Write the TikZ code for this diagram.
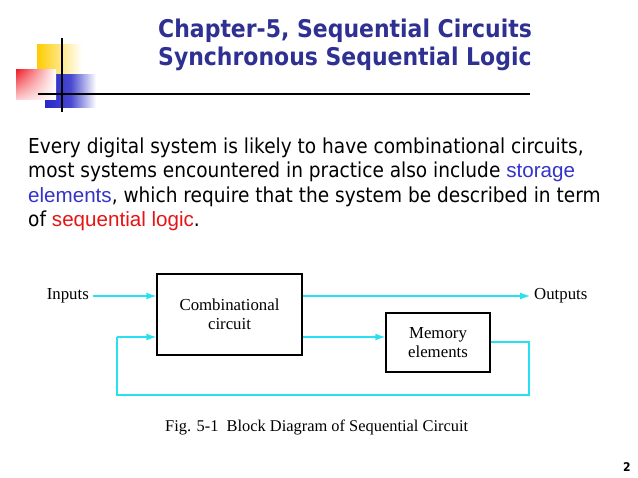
\documentclass[tikz,border=0pt]{standalone}
\usepackage{fontspec}
\setmainfont[FakeStretch=0.9]{DejaVu Sans}
\newfontfamily\serifdiag{Liberation Serif}
\newfontfamily\hlfont{Liberation Sans}
\usetikzlibrary{arrows.meta,shadings}
\definecolor{titleblue}{RGB}{46,49,146}
\definecolor{wireblue}{RGB}{40,225,240}
\definecolor{hlblue}{RGB}{51,51,204}
\definecolor{hlred}{RGB}{230,20,20}
\definecolor{decoyellow}{RGB}{255,204,0}
\definecolor{decored}{RGB}{240,30,40}
\definecolor{decoblue}{RGB}{40,40,200}
\newcommand{\hlb}[1]{{\hlfont\color{hlblue}#1}}
\newcommand{\hlr}[1]{{\hlfont\color{hlred}#1}}
\begin{document}
\begin{tikzpicture}[x=1pt,y=-1pt,
  blockbox/.style={draw=black,line width=1.3pt,minimum width=#1,align=center,font=\serifdiag\fontsize{16.8}{19}\selectfont},
  wire/.style={draw=wireblue,line width=1.3pt},
  wirearrow/.style={wire,-{Latex[length=10pt,width=7pt]}},
  difflabel/.style={font=\serifdiag\fontsize{16.8}{19}\selectfont},
  titletext/.style={font=\bfseries\fontsize{24.4}{28.5}\selectfont,text=titleblue,anchor=base west,align=left,inner sep=0pt},
  bodytext/.style={font=\fontsize{20.6}{24.6}\selectfont,anchor=base west,align=left,inner sep=0pt}]
\useasboundingbox[fill=white] (0,0) rectangle (638,478);
% decoration
\shade[left color=decoyellow,right color=white] (37,45) rectangle (82,76);
\shade[left color=decoblue,right color=white,middle color=decoblue!85] (45,75) rectangle (96,108);
\shade[upper left=decored,upper right=white,lower left=decored!20,lower right=white] (16,70) rectangle (56,100);
\draw[line width=1.5pt] (62,38) -- (62,112);
\draw[line width=1.5pt] (38,94) -- (530,94);
% title (anchor = baseline of last line)
\node[titletext] (title) at (158,66) {Chapter-5, Sequential Circuits\\Synchronous Sequential Logic};
% body (anchor = baseline of last line)
\node[bodytext] (body) at (28,227) {Every digital system is likely to have combinational circuits,\\most systems encountered in practice also include \hlb{storage}\\\hlb{elements}, which require that the system be described in term\\of \hlr{sequential logic}.};
% diagram
\node[blockbox=145pt,minimum height=81pt] (comb) at (229.5,314.5) {Combinational\\circuit};
\node[blockbox=104pt,minimum height=59pt] (mem) at (438,342.5) {Memory\\elements};
\node[difflabel,anchor=east,inner sep=0pt] (in) at (89,296) {Inputs};
\node[difflabel,anchor=west,inner sep=0pt] (out) at (534,296) {Outputs};
\coordinate (outend) at (530,296);
\coordinate (c1) at (529,342);
\coordinate (c2) at (529,395);
\coordinate (c3) at (117,395);
\coordinate (c4) at (117,337);
\draw[wirearrow] (in.east) ++(4,0) -- (comb.west |- in.east);
\draw[wirearrow] (comb.east |- outend) -- (outend);
\draw[wirearrow] (comb.east |- c4) -- (mem.west |- c4);
\draw[wire] (mem.east |- c1) -- (c1) -- (c2) -- (c3) -- (c4);
\draw[wirearrow] (c4) -- (comb.west |- c4);
\node[font=\serifdiag\fontsize{16.4}{19}\selectfont,anchor=west,inner sep=0pt] (cap) at (165,427) {Fig. 5-1\ \ Block Diagram of Sequential Circuit};
\node[font=\bfseries\fontsize{12}{14}\selectfont,inner sep=0pt] (pg) at (627,467) {2};
\end{tikzpicture}
\end{document}
